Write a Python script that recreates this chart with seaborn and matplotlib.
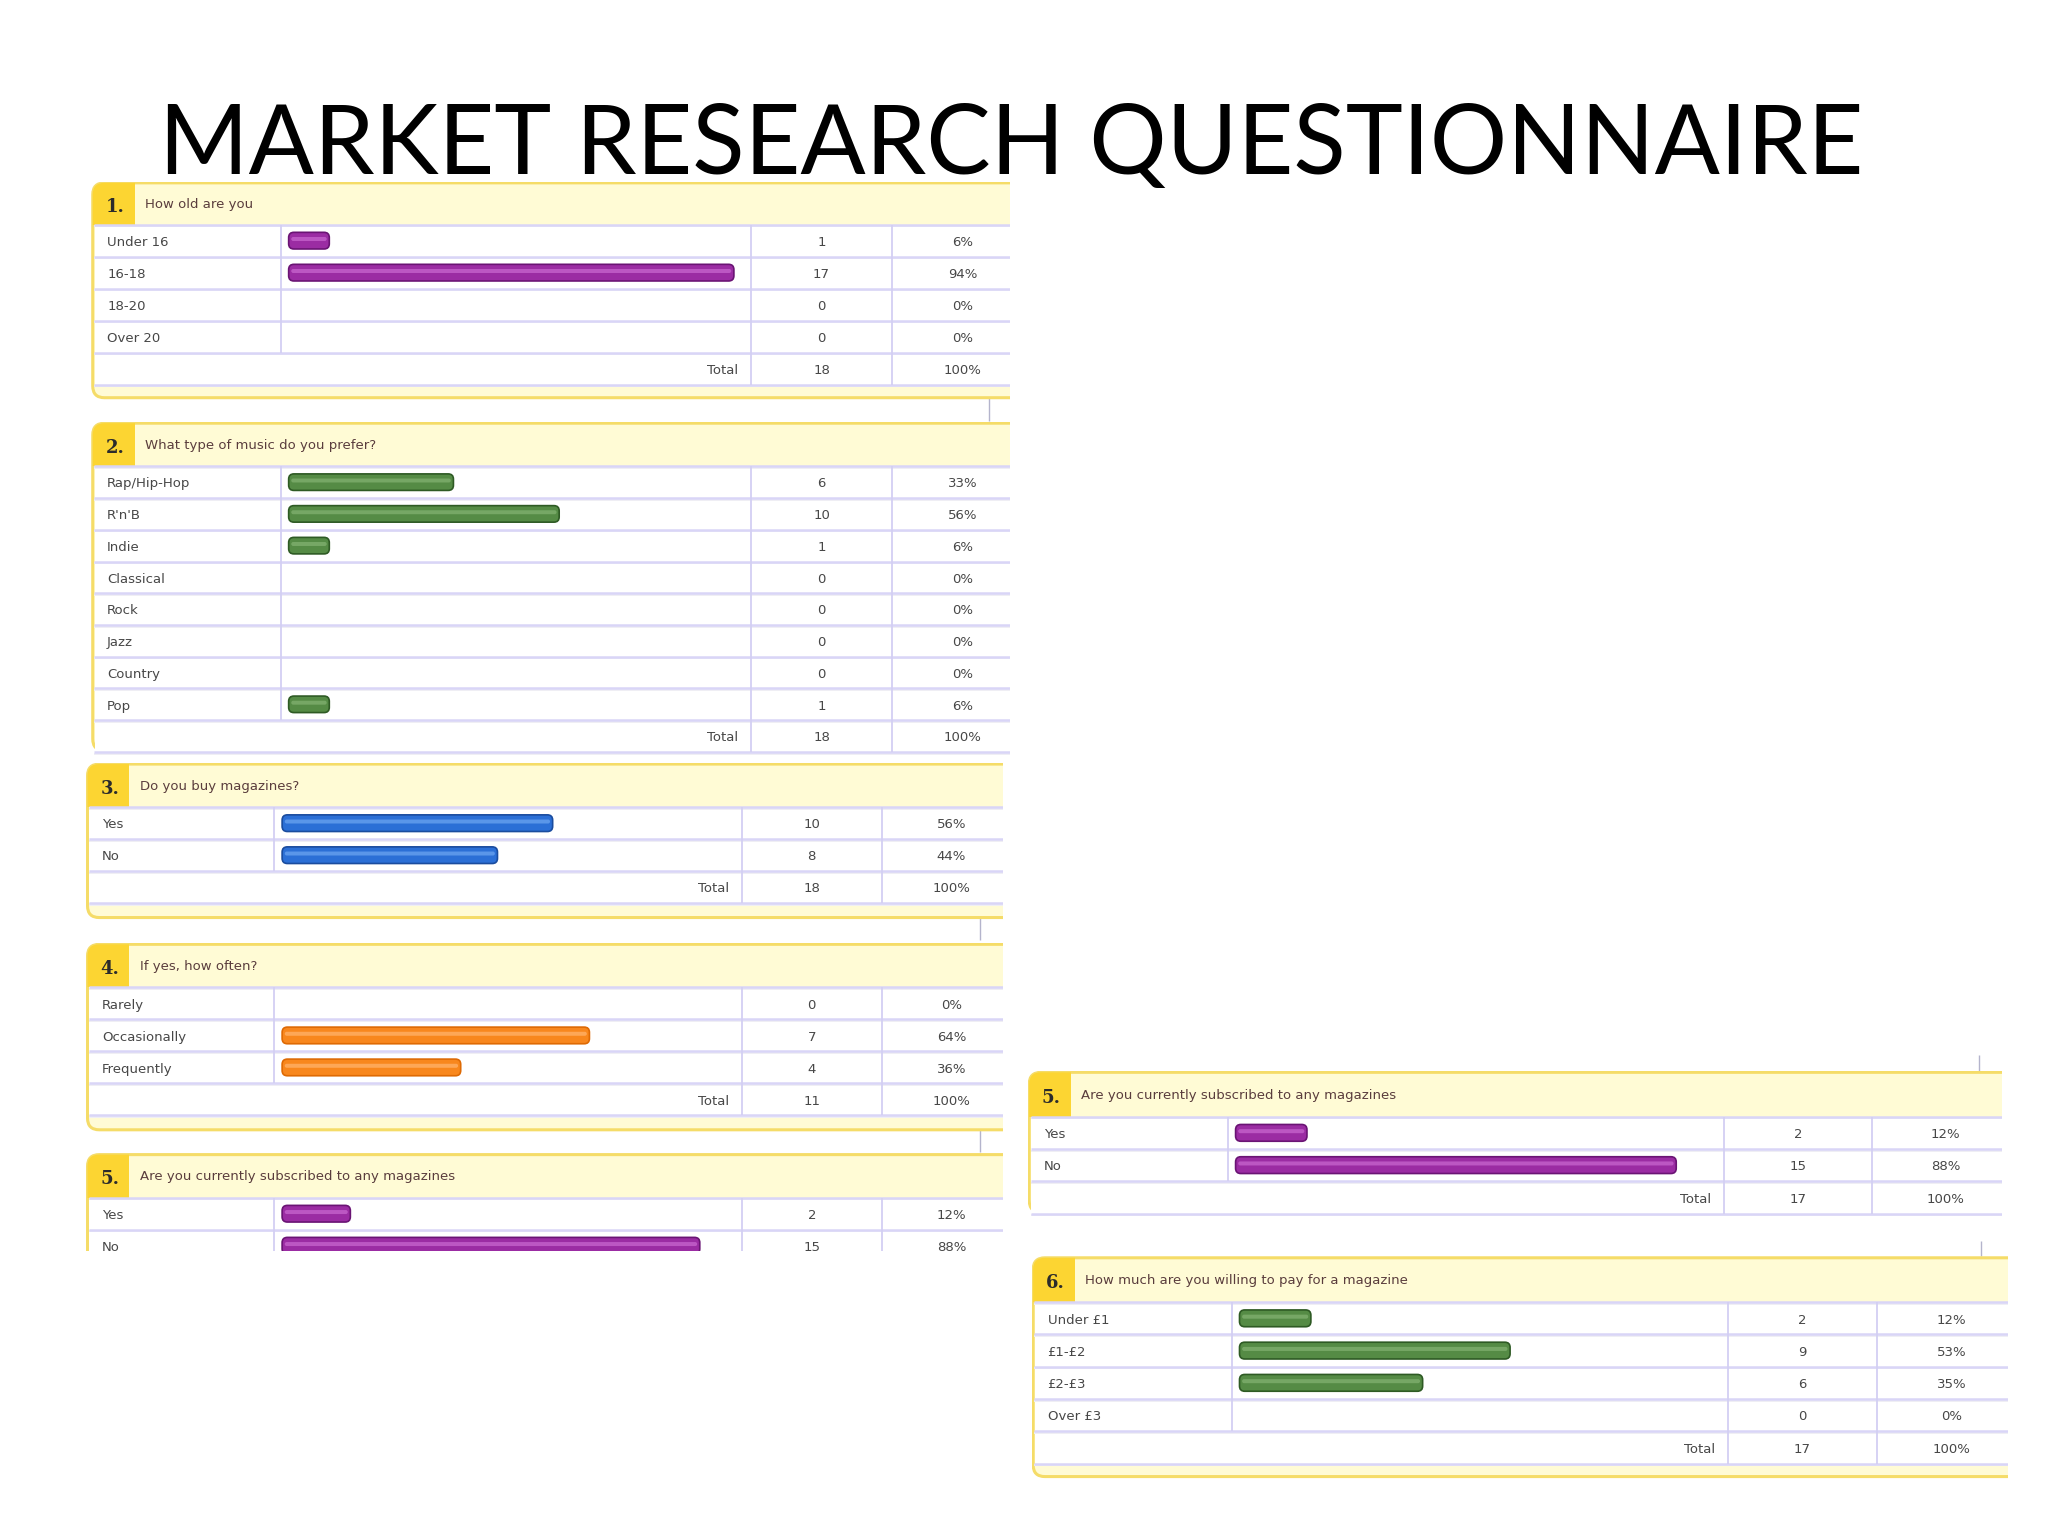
import matplotlib
matplotlib.use("Agg")
import matplotlib.pyplot as plt
from matplotlib.patches import FancyBboxPatch, Rectangle
import seaborn as sns
import pandas as pd

# survey results
age_labels = ["Under 16", "16-18", "18-20", "Over 20"]
age_counts = [1, 17, 0, 0]
age_pcts = [6, 94, 0, 0]

music_labels = ["Rap/Hip-Hop", "R'n'B", "Indie", "Classical", "Rock", "Jazz", "Country", "Pop"]
music_counts = [6, 10, 1, 0, 0, 0, 0, 1]
music_pcts = [33, 56, 6, 0, 0, 0, 0, 6]

buy_labels = ["Yes", "No"]
buy_counts = [10, 8]
buy_pcts = [56, 44]

often_labels = ["Rarely", "Occasionally", "Frequently"]
often_counts = [0, 7, 4]
often_pcts = [0, 64, 36]

sub_labels = ["Yes", "No"]
sub_counts = [2, 15]
sub_pcts = [12, 88]

price_labels = ["Under £1", "£1-£2", "£2-£3", "Over £3"]
price_counts = [2, 9, 6, 0]
price_pcts = [12, 53, 35, 0]

questions = ["How old are you", "What type of music do you prefer?", "Do you buy magazines?",
             "If yes, how often?", "Are you currently subscribed to any magazines",
             "How much are you willing to pay for a magazine"]
question_totals = [18, 18, 18, 11, 17, 17]

# bar colours: fill, edge, shine
purple = ("#9b2ca3", "#6a1474", "#c563cc")
green = ("#558b45", "#2e5a24", "#7faf6e")
blue = ("#2b6fd6", "#1a4c9e", "#66a0ee")
orange = ("#f8871d", "#de6a04", "#ffb066")

# layout in slide units (reference scaled to 1568 x 1176)
W, H = 1568, 1176

sns.set_style("white")
plt.rcParams["font.family"] = ["DejaVu Sans"]

fig = plt.figure(figsize=(20.48, 15.36), dpi=100)
fig.patch.set_facecolor("white")

TXT = "#474747"


def draw_panel(num, labels, counts, pcts, shade, lay):
    left, right, top, head = lay["left"], lay["right"], lay["top"], lay["head"]
    pitch = lay["pitch"]
    c1, c2, c3 = lay["cols"]
    n = len(labels)
    body_bottom = head + pitch * (n + 1)
    bottom = body_bottom + lay["strip"]
    cut = lay.get("cut", bottom + 2)

    ax = fig.add_axes([left / W, 1 - cut / H, (right - left) / W, (cut - top) / H])
    ax.set_xlim(left, right)
    ax.set_ylim(cut, top)
    ax.axis("off")

    outline = FancyBboxPatch((left + 1, top + 1), right - left + 40, bottom - top - 2,
                             boxstyle="round,pad=0,rounding_size=9",
                             fc="#fffbd5", ec="#f5dc68", lw=2.2)
    ax.add_patch(outline)
    numbox = Rectangle((left, top), 33, head - top, fc="#fcd532", ec="none")
    ax.add_patch(numbox)
    numbox.set_clip_path(outline)
    ax.add_patch(Rectangle((left + 2.5, head), right - left, body_bottom - head,
                           fc="white", ec="none"))

    # row and column rules
    for k in range(n + 2):
        ax.hlines(head + k * pitch + 1.2, left + 2, right, color="#efeef4", lw=1.4)
        ax.hlines(head + k * pitch, left + 2, right, color="#d9d5f7", lw=1.8)
    ax.vlines(c1, head, head + n * pitch, color="#d3cff3", lw=1.3)
    ax.vlines([c2, c3], head, body_bottom, color="#d3cff3", lw=1.3)

    mid = (top + head) / 2
    ax.text(left + 18, mid + 3, f"{num}.", ha="center", va="center", fontsize=13,
            fontweight="bold", family="DejaVu Serif", color="#2b2b2b", clip_on=True)
    ax.text(left + 41, mid + 1, questions[num - 1], ha="left", va="center", fontsize=9.5,
            color="#5a3d3d", clip_on=True)

    cnt_x = (c2 + c3) / 2
    pct_x = c3 + (c3 - c2) / 2
    for i, (lab, c, p) in enumerate(zip(labels, counts, pcts)):
        y = head + pitch * (i + 0.5) + 1.3
        ax.text(left + 12, y, lab, ha="left", va="center", fontsize=9.5, color=TXT, clip_on=True)
        ax.text(cnt_x, y, str(c), ha="center", va="center", fontsize=9.5, color=TXT, clip_on=True)
        ax.text(pct_x, y, f"{p}%", ha="center", va="center", fontsize=9.5, color=TXT, clip_on=True)
    y = head + pitch * (n + 0.5) + 1.3
    ax.text(c2 - 10, y, "Total", ha="right", va="center", fontsize=9.5, color=TXT, clip_on=True)
    ax.text(cnt_x, y, str(question_totals[num - 1]), ha="center", va="center", fontsize=9.5,
            color=TXT, clip_on=True)
    ax.text(pct_x, y, "100%", ha="center", va="center", fontsize=9.5, color=TXT, clip_on=True)

    # bars: seaborn on an axes laid over the bar column
    scale = lay["scale"]
    pad = 10
    x0 = c1 + 11
    rows_bottom = min(head + n * pitch, cut)
    bax = fig.add_axes([(x0 - pad) / W, 1 - rows_bottom / H, (scale + 2 * pad) / W,
                        (rows_bottom - head) / H])
    df = pd.DataFrame({"answer": labels, "pct": pcts})
    sns.barplot(data=df, x="pct", y="answer", orient="h", color=shade[0], width=0.52,
                ax=bax, saturation=1)
    ux = 100 / scale
    uy = 1 / pitch
    bax.set_xlim(-pad * ux, 100 + pad * ux)
    bax.set_ylim(-0.5 + (rows_bottom - head) / pitch, -0.5)
    bax.axis("off")
    for p in list(bax.patches):
        x, yb, w, h = p.get_x(), p.get_y(), p.get_width(), p.get_height()
        p.set_visible(False)
        if w <= 0:
            continue
        bax.add_patch(FancyBboxPatch((x - 5 * ux, yb), w + 10 * ux, h,
                                     boxstyle=f"round,pad=0,rounding_size={4 * ux}",
                                     mutation_aspect=uy / ux, fc=shade[0], ec=shade[1], lw=1.2))
        bax.add_patch(FancyBboxPatch((x - 3 * ux, yb + h * 0.28), w + 6 * ux, h * 0.24,
                                     boxstyle=f"round,pad=0,rounding_size={1.5 * ux}",
                                     mutation_aspect=uy / ux, fc=shade[2], ec="none", alpha=0.8))


left_cols = (215, 575, 683)
draw_panel(1, age_labels, age_counts, age_pcts, purple,
           dict(left=70, right=773, top=139, head=172, pitch=24.5, strip=11,
                cols=left_cols, scale=352))
draw_panel(2, music_labels, music_counts, music_pcts, green,
           dict(left=70, right=773, top=323, head=357, pitch=24.3, strip=0,
                cols=left_cols, scale=352, cut=578))
mid_cols = (210, 568, 675)
draw_panel(3, buy_labels, buy_counts, buy_pcts, blue,
           dict(left=66, right=768, top=584, head=618, pitch=24.5, strip=12,
                cols=mid_cols, scale=352))
draw_panel(4, often_labels, often_counts, often_pcts, orange,
           dict(left=66, right=768, top=722, head=756, pitch=24.5, strip=12,
                cols=mid_cols, scale=352))
draw_panel(5, sub_labels, sub_counts, sub_pcts, purple,
           dict(left=66, right=768, top=883, head=917, pitch=24.5, strip=12,
                cols=mid_cols, scale=352, cut=958))
draw_panel(5, sub_labels, sub_counts, sub_pcts, purple,
           dict(left=787, right=1533, top=820, head=855, pitch=24.7, strip=0,
                cols=(940, 1320, 1433), scale=372, cut=931))
draw_panel(6, price_labels, price_counts, price_pcts, green,
           dict(left=790, right=1537, top=962, head=997, pitch=24.7, strip=11,
                cols=(943, 1323, 1437), scale=372))

# stray screenshot edges between the panels
over = fig.add_axes([0, 0, 1, 1], zorder=-1)
over.set_xlim(0, W)
over.set_ylim(H, 0)
over.axis("off")
for x, y0, y1 in [(757, 300, 322), (750, 702, 720), (750, 864, 882), (1515, 808, 820),
                  (1517, 950, 962)]:
    over.vlines(x, y0, y1, color="#b4b4cc", lw=1)

fig.text(774 / W, 1 - 133 / H, "MARKET RESEARCH QUESTIONNAIRE", ha="center", va="baseline",
         fontsize=69.5, family=["Lato", "DejaVu Sans"], color="black")

fig.savefig("out.png", dpi=100, facecolor="white")
